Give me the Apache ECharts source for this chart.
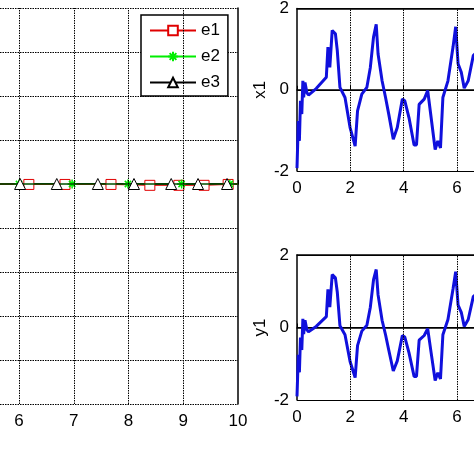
<!DOCTYPE html><html><head><meta charset="utf-8"><script src="https://cdn.jsdelivr.net/npm/echarts@6/dist/echarts.min.js"></script>
<style>html,body{margin:0;background:#fff}#c{width:474px;height:474px}</style></head><body><div id="c"></div><script>
const e1X=[5.6,6.18,6.84,7.68,8.39,8.92,9.38,9.82,10];
const e1Y=[0,-0.01,-0.01,-0.01,-0.03,-0.03,-0.03,-0.01,0];
const e2X=[5.6,6.0,6.97,7.99,8.97,9.85,10];
const e2Y=[0,0,0,0,0,0,0];
const e3X=[5.6,6.02,6.69,7.44,8.1,8.78,9.27,9.8,10];
const e3Y=[0,0,0,0,0,0,0,0,0];
const leftTicks=[6,7,8,9,10];
const rightTicks=[0,2,4,6];
const tT=[0,0.05,0.09,0.13,0.18,0.22,0.25,0.3,0.37,0.43,0.72,1.1,1.16,1.23,1.32,1.44,1.51,1.61,1.8,1.99,2.18,2.27,2.43,2.62,2.75,2.87,2.97,3.04,3.19,3.32,3.44,3.61,3.76,3.95,4.04,4.2,4.39,4.48,4.58,4.77,4.9,5.03,5.18,5.28,5.38,5.47,5.66,5.85,5.95,6.04,6.16,6.27,6.42,6.61,6.8,7.0];
const x1V=[-1.93,-0.77,-1.26,-0.27,-0.6,0.22,-0.19,0.18,-0.07,-0.13,0.03,0.31,1.05,0.55,1.46,1.38,0.97,0.06,-0.19,-0.93,-1.39,-0.52,-0.11,0.06,0.55,1.3,1.61,0.88,0.22,-0.19,-0.6,-1.22,-0.93,-0.23,-0.27,-0.69,-1.36,-1.36,-0.36,-0.23,-0.02,-0.69,-1.47,-1.26,-1.43,-0.19,0.22,1.05,1.55,0.64,0.43,0.04,0.22,0.84,0.97,1.1];
const y1V=[-1.9,-0.75,-1.24,-0.28,-0.62,0.24,-0.18,0.2,-0.06,-0.12,0.03,0.3,1.05,0.56,1.46,1.37,0.98,0.05,-0.2,-0.94,-1.38,-0.5,-0.1,0.06,0.56,1.32,1.6,0.9,0.2,-0.2,-0.62,-1.2,-0.92,-0.22,-0.26,-0.7,-1.35,-1.35,-0.35,-0.22,-0.03,-0.7,-1.46,-1.25,-1.42,-0.2,0.22,1.06,1.54,0.62,0.42,0.03,0.22,0.85,0.98,1.1];
const F='Liberation Sans, Arial';
const dot={color:'#000',type:[1.5,1],width:1};
const gl={show:true,lineStyle:dot};
const axL={lineStyle:{color:'#000',width:1.5}};
const tk={inside:true,length:4,lineStyle:{color:'#000'}};
const lab={color:'#000',fontSize:17,fontFamily:F};
const pts=(a,b)=>a.map((v,i)=>({value:[v,b[i]],symbol:(i===0||v>=10)?'none':undefined}));
const vlines=(vals)=>({silent:true,symbol:'none',label:{show:false},lineStyle:dot,animation:false,data:vals.map(v=>({xAxis:v}))});
const c=echarts.init(document.getElementById('c'));
const LMIN=6-19/54.75, RMAX=(474-297)/26.67;
c.setOption({animation:false,
grid:[{left:0,right:236,top:8,height:396},{left:297,right:0,top:8,height:163},{left:297,right:0,top:255,height:145}],
legend:{data:['e1','e2','e3'],orient:'vertical',left:141,top:15,width:91,padding:[7,8,5,8],itemGap:9,itemWidth:46,itemHeight:12,borderColor:'#000',borderWidth:1.5,backgroundColor:'#fff',textStyle:{fontSize:17,fontFamily:F,color:'#000'}},
xAxis:[
{gridIndex:0,type:'value',min:LMIN,max:10,axisLine:axL,axisTick:{...tk,customValues:leftTicks},splitLine:{show:false},axisLabel:{...lab,margin:9,customValues:leftTicks}},
{gridIndex:1,type:'value',min:0,max:RMAX,axisLine:axL,axisTick:{...tk,customValues:rightTicks},splitLine:{show:false},axisLabel:{...lab,margin:9,customValues:rightTicks}},
{gridIndex:2,type:'value',min:0,max:RMAX,axisLine:axL,axisTick:{...tk,customValues:rightTicks},splitLine:{show:false},axisLabel:{...lab,margin:9,customValues:rightTicks}},
{gridIndex:0,position:'top',type:'value',min:LMIN,max:10,axisLine:axL,axisTick:{show:false},axisLabel:{show:false},splitLine:{show:false}},
{gridIndex:1,position:'top',type:'value',min:0,max:RMAX,axisLine:axL,axisTick:{show:false},axisLabel:{show:false},splitLine:{show:false}},
{gridIndex:2,position:'top',type:'value',min:0,max:RMAX,axisLine:axL,axisTick:{show:false},axisLabel:{show:false},splitLine:{show:false}}],
yAxis:[
{gridIndex:0,type:'value',min:-5,max:4,interval:1,axisLine:{show:false},axisTick:{show:false},splitLine:gl,axisLabel:{show:false}},
{gridIndex:1,type:'value',min:-2,max:2,interval:2,axisLine:axL,axisTick:tk,splitLine:{show:true,lineStyle:{color:'#000',width:1}},axisLabel:{...lab,margin:8},name:'x1',nameLocation:'middle',nameGap:28,nameTextStyle:{...lab}},
{gridIndex:2,type:'value',min:-2,max:2,interval:2,axisLine:axL,axisTick:tk,splitLine:{show:true,lineStyle:{color:'#000',width:1}},axisLabel:{...lab,margin:8},name:'y1',nameLocation:'middle',nameGap:28,nameTextStyle:{...lab}},
{gridIndex:0,position:'right',type:'value',min:-5,max:4,axisLine:axL,axisTick:{show:false},axisLabel:{show:false},splitLine:{show:false}}],
series:[
{name:'e1',type:'line',xAxisIndex:0,yAxisIndex:0,data:pts(e1X,e1Y),symbol:'rect',symbolSize:10,showAllSymbol:true,itemStyle:{color:'#fff',borderColor:'#e00000',borderWidth:1},lineStyle:{color:'#e00000',width:1},z:3,markLine:vlines(leftTicks.slice(0,4))},
{name:'e2',type:'line',xAxisIndex:0,yAxisIndex:0,data:pts(e2X,e2Y),symbol:'path://M0,-5L0,5M-5,0L5,0M-3.5,-3.5L3.5,3.5M-3.5,3.5L3.5,-3.5',symbolSize:9,showAllSymbol:true,itemStyle:{color:'#00ee00',borderColor:'#00ee00',borderWidth:1.5},lineStyle:{color:'#00ee00',width:1},z:4},
{name:'e3',type:'line',xAxisIndex:0,yAxisIndex:0,data:pts(e3X,e3Y),symbol:'triangle',symbolSize:11,showAllSymbol:true,itemStyle:{color:'#fff',borderColor:'#000',borderWidth:1},lineStyle:{color:'#000',width:1},z:5},
{type:'line',xAxisIndex:1,yAxisIndex:1,data:tT.map((t,i)=>[t,x1V[i]]),symbol:'none',lineStyle:{color:'#1010dd',width:3},z:3,markLine:vlines(rightTicks.slice(1))},
{type:'line',xAxisIndex:2,yAxisIndex:2,data:tT.map((t,i)=>[t,y1V[i]]),symbol:'none',lineStyle:{color:'#1010dd',width:3},z:3,markLine:vlines(rightTicks.slice(1))}]
});
</script></body></html>
